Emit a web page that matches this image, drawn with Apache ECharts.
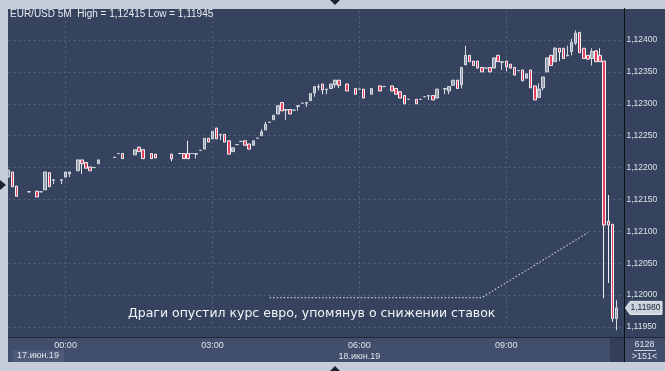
<!DOCTYPE html>
<html><head><meta charset="utf-8">
<script src="https://cdn.jsdelivr.net/npm/echarts@6/dist/echarts.min.js"></script>
<style>html,body{margin:0;padding:0;background:#36435f;overflow:hidden}#c{width:665px;height:371px}</style>
</head><body><div id="c"></div>
<script>
// ---------------- data ----------------
const symbolName = 'EUR/USD';
const timeframe = '5M';
const startTime = [22, 50];          // first visible bar (17 June)
const barMinutes = 5;
const timeTicks = ['00:00', '03:00', '06:00', '09:00'];
const dateLabels = ['17.июн.19', '18.июн.19'];
const dateTickTime = '06:00';
const barsTotal = '6128';
const yMin = 1.1195, yMax = 1.1250, yStep = 0.0005;

// [open, close, low, high]; null = no bar drawn
const ohlc = [
 [1.12185,1.12196,1.12185,1.12196],[1.12193,1.12170,1.12170,1.12193],[1.12171,1.12155,1.12155,1.12171],null,null,
 [1.12162,1.12162,1.12162,1.12162],null,[1.12163,1.12154,1.12154,1.12163],[1.12162,1.12162,1.12162,1.12162],[1.12165,1.12193,1.12165,1.12193],
 [1.12192,1.12170,1.12170,1.12192],[1.12180,1.12181,1.12174,1.12181],null,[1.12180,1.12181,1.12174,1.12181],[1.12185,1.12193,1.12185,1.12193],
 [1.12190,1.12193,1.12185,1.12193],null,[1.12195,1.12212,1.12195,1.12212],[1.12212,1.12206,1.12190,1.12212],[1.12208,1.12199,1.12199,1.12208],
 [1.12201,1.12195,1.12195,1.12201],[1.12200,1.12200,1.12200,1.12200],[1.12206,1.12212,1.12206,1.12212],null,null,
 null,[1.12216,1.12216,1.12216,1.12216],[1.12222,1.12222,1.12222,1.12222],[1.12222,1.12214,1.12214,1.12222],null,
 null,[1.12220,1.12228,1.12220,1.12228],[1.12232,1.12225,1.12225,1.12232],[1.12228,1.12214,1.12214,1.12228],null,
 [1.12222,1.12214,1.12214,1.12222],[1.12221,1.12215,1.12215,1.12221],null,null,null,
 [1.12221,1.12214,1.12210,1.12221],null,[1.12222,1.12222,1.12222,1.12222],[1.12222,1.12214,1.12214,1.12222],[1.12222,1.12214,1.12214,1.12242],
 [1.12222,1.12222,1.12222,1.12222],[1.12221,1.12222,1.12214,1.12222],[1.12227,1.12227,1.12227,1.12227],[1.12229,1.12246,1.12229,1.12246],[1.12246,1.12240,1.12240,1.12246],
 [1.12245,1.12257,1.12245,1.12257],[1.12262,1.12245,1.12245,1.12262],[1.12251,1.12252,1.12243,1.12252],[1.12252,1.12240,1.12240,1.12252],[1.12242,1.12221,1.12221,1.12242],
 [1.12225,1.12231,1.12225,1.12231],[1.12236,1.12236,1.12236,1.12236],[1.12241,1.12241,1.12241,1.12241],[1.12242,1.12235,1.12235,1.12242],[1.12237,1.12229,1.12229,1.12237],
 [1.12235,1.12242,1.12235,1.12242],[1.12246,1.12246,1.12246,1.12246],[1.12250,1.12256,1.12250,1.12260],[1.12259,1.12268,1.12259,1.12272],[1.12271,1.12271,1.12271,1.12271],
 [1.12275,1.12282,1.12275,1.12282],[1.12284,1.12297,1.12284,1.12297],[1.12302,1.12289,1.12289,1.12302],[1.12290,1.12291,1.12275,1.12291],[1.12291,1.12284,1.12284,1.12291],
 [1.12290,1.12290,1.12290,1.12290],[1.12296,1.12297,1.12289,1.12297],[1.12301,1.12301,1.12301,1.12301],[1.12301,1.12302,1.12295,1.12302],[1.12305,1.12316,1.12305,1.12316],
 [1.12317,1.12327,1.12311,1.12327],[1.12326,1.12327,1.12321,1.12331],[1.12331,1.12322,1.12315,1.12331],[1.12322,1.12323,1.12315,1.12323],[1.12324,1.12331,1.12324,1.12331],
 [1.12330,1.12337,1.12325,1.12337],[1.12337,1.12329,1.12325,1.12337],null,[1.12331,1.12320,1.12320,1.12331],null,
 [1.12324,1.12315,1.12315,1.12324],[1.12323,1.12323,1.12323,1.12323],[1.12323,1.12309,1.12309,1.12323],null,[1.12315,1.12324,1.12315,1.12324],
 null,[1.12328,1.12320,1.12320,1.12328],[1.12327,1.12327,1.12327,1.12327],null,[1.12328,1.12320,1.12320,1.12328],
 [1.12324,1.12315,1.12315,1.12324],[1.12319,1.12309,1.12309,1.12319],[1.12313,1.12300,1.12300,1.12313],[1.12307,1.12307,1.12307,1.12307],null,
 [1.12307,1.12300,1.12300,1.12307],[1.12307,1.12307,1.12307,1.12307],[1.12311,1.12311,1.12311,1.12311],[1.12312,1.12313,1.12306,1.12313],[1.12313,1.12306,1.12306,1.12313],
 [1.12309,1.12323,1.12309,1.12323],null,[1.12323,1.12324,1.12315,1.12324],[1.12320,1.12327,1.12315,1.12327],[1.12329,1.12337,1.12329,1.12337],
 [1.12337,1.12324,1.12324,1.12337],[1.12330,1.12357,1.12324,1.12357],[1.12361,1.12376,1.12361,1.12391],[1.12376,1.12366,1.12366,1.12376],[1.12367,1.12360,1.12360,1.12367],
 [1.12367,1.12356,1.12356,1.12367],[1.12357,1.12350,1.12350,1.12357],[1.12356,1.12356,1.12356,1.12356],[1.12357,1.12350,1.12350,1.12357],[1.12356,1.12372,1.12356,1.12372],
 [1.12376,1.12366,1.12366,1.12376],[1.12365,1.12366,1.12353,1.12366],[1.12367,1.12358,1.12351,1.12367],[1.12362,1.12356,1.12356,1.12362],[1.12357,1.12345,1.12345,1.12357],
 [1.12352,1.12352,1.12352,1.12352],[1.12353,1.12336,1.12336,1.12353],[1.12340,1.12347,1.12340,1.12347],[1.12353,1.12325,1.12325,1.12353],[1.12328,1.12306,1.12306,1.12328],
 [1.12310,1.12323,1.12310,1.12332],[1.12325,1.12342,1.12321,1.12342],[1.12350,1.12372,1.12350,1.12372],[1.12376,1.12360,1.12360,1.12376],[1.12366,1.12387,1.12366,1.12389],
 [1.12387,1.12381,1.12367,1.12387],[1.12387,1.12371,1.12371,1.12387],[1.12375,1.12376,1.12375,1.12391],[1.12382,1.12396,1.12376,1.12402],[1.12395,1.12411,1.12392,1.12415],
 [1.12412,1.12380,1.12380,1.12412],[1.12387,1.12371,1.12371,1.12387],[1.12376,1.12370,1.12370,1.12376],[1.12371,1.12382,1.12360,1.12387],[1.12383,1.12366,1.12366,1.12383],
 [1.12376,1.12366,1.12366,1.12387],[1.12367,1.12110,1.11995,1.12367],[1.12116,1.12110,1.12019,1.12157],[1.12111,1.11963,1.11958,1.12111],[1.11963,1.11980,1.11945,1.11992],
 null
];

// annotation
const noteText = 'Драги опустил курс евро, упомянув о снижении ставок';
const noteLineX = [64, 116, 142];
const noteLineY = [1.11996, 1.11996, 1.12098];

// ---------------- build ----------------
const pad = n => String(n).padStart(2, '0');
const categories = ohlc.map((_, i) => {
  const m = (startTime[0] * 60 + startTime[1] + i * barMinutes) % 1440;
  return pad(Math.floor(m / 60)) + ':' + pad(m % 60);
});
const tickIdx = timeTicks.map(t => categories.indexOf(t));
const dateIdx = categories.indexOf(dateTickTime);
const fmt = v => v.toFixed(5).replace('.', ',');
const bars = ohlc.filter(Boolean);
const hi = Math.max(...bars.map(b => b[3]));
const lo = Math.min(...bars.map(b => b[2]));
let lastIdx = ohlc.length - 1; while (!ohlc[lastIdx]) lastIdx--;
const lastPrice = ohlc[lastIdx][1];

const FONT = "'Liberation Sans', Arial, sans-serif";
const BG = '#36435f', FRAME = '#c6cdd8', STRIP = '#424f6c';

const chart = echarts.init(document.getElementById('c'), null, {renderer: 'canvas'});
const txt = (id, x, y, text, size, fill, align, family) => ({
  id, type: 'text', x, y, z: 120,
  style: {text, font: size + 'px ' + (family || FONT), fill, textAlign: align, align: align,
          textVerticalAlign: 'middle', verticalAlign: 'middle'}
});

chart.setOption({
  animation: false,
  backgroundColor: BG,
  textStyle: {fontFamily: FONT},
  grid: {left: 8.5, top: -23.78, width: 612, height: 350.8, containLabel: false, outerBoundsMode: 'none'},
  xAxis: {
    type: 'category', data: categories, boundaryGap: false,
    axisLine: {show: false}, axisTick: {show: false},
    axisLabel: {
      interval: (i) => tickIdx.indexOf(i) >= 0,
      margin: 12.5, color: '#dfe3ea', fontSize: 9, lineHeight: 11,
      formatter: (v, i) => i === dateIdx ? v + '\n{d|' + dateLabels[1] + '}' : v,
      rich: {d: {fontSize: 9, lineHeight: 11, color: '#dfe3ea'}}
    },
    splitLine: {show: true, interval: (i) => tickIdx.indexOf(i) >= 0,
      lineStyle: {color: '#57637e', type: [2, 3], width: 1}}
  },
  yAxis: {
    type: 'value', position: 'right', min: yMin, max: yMax, interval: yStep,
    axisLine: {show: false}, axisTick: {show: false},
    axisLabel: {margin: 6, color: '#dfe3ea', fontSize: 8.5,
      formatter: v => (v > 1.12401 ? '' : fmt(v))},
    splitLine: {lineStyle: {color: '#57637e', type: [2, 3], width: 1}}
  },
  series: [
    {
      type: 'candlestick', clip: false, barWidth: 3, z: 5,
      data: ohlc.map(d => d ? d : ['-', '-', '-', '-']),
      itemStyle: {color: '#9aa0ad', color0: '#e6405e', borderColor: '#d6dae2',
                  borderColor0: '#f0f1f4', borderWidth: 1}
    },
    {
      type: 'line', data: noteLineX.map((x, i) => [x, noteLineY[i]]),
      symbol: 'none', silent: true, z: 4,
      lineStyle: {color: '#c3c9d4', width: 1.2, type: [1.5, 2]}
    }
  ],
  graphic: {elements: [
    {id: 'strip', type: 'rect', z: -10, shape: {x: 8, y: 337, width: 657, height: 25}, style: {fill: STRIP}},
    {id: 'stripDark', type: 'rect', z: -9, shape: {x: 610, y: 338, width: 14, height: 24}, style: {fill: '#333f59'}},
    {id: 'stripLine', type: 'rect', z: -8, shape: {x: 8, y: 337, width: 657, height: 1}, style: {fill: '#1f2738'}},
    {id: 'dateBox', type: 'rect', z: -8, shape: {x: 13, y: 350, width: 51, height: 12}, style: {fill: '#4e5b78'}},
    txt('date0', 38, 356, dateLabels[0], 9, '#dfe3ea', 'center'),
    {id: 'axisLineR', type: 'rect', z: 110, shape: {x: 624, y: 8, width: 1, height: 354}, style: {fill: '#0c0f16'}},
    {id: 'fTop', type: 'rect', z: 100, shape: {x: 0, y: 0, width: 665, height: 9}, style: {fill: FRAME}},
    {id: 'fLeft', type: 'rect', z: 100, shape: {x: 0, y: 0, width: 8, height: 371}, style: {fill: FRAME}},
    {id: 'fBot', type: 'rect', z: 100, shape: {x: 0, y: 362, width: 665, height: 9}, style: {fill: FRAME}},
    {id: 'triTop', type: 'polygon', z: 105, shape: {points: [[330, 0], [340, 0], [335, 5]]}, style: {fill: '#1c2231'}},
    {id: 'triBot', type: 'polygon', z: 105, shape: {points: [[330, 371], [340, 371], [335, 366]]}, style: {fill: '#1c2231'}},
    {id: 'triLeft', type: 'polygon', z: 105, shape: {points: [[0, 180], [0, 190], [6, 185]]}, style: {fill: '#1c2231'}},
    txt('title', 10, 14.5, symbolName + ' ' + timeframe + '  High = ' + fmt(hi) + ' Low = ' + fmt(lo), 10, '#e8ebf0', 'left'),
    txt('note', 128, 314, noteText, 12.5, '#f2f4f7', 'left', "'DejaVu Sans', sans-serif"),
    txt('total', 644.5, 345, barsTotal, 9, '#dfe3ea', 'center'),
    {id: 'totalLine', type: 'rect', z: 110, shape: {x: 634, y: 350, width: 22, height: 1}, style: {fill: '#c8ced8'}},
    txt('visible', 644.5, 357, '>' + ohlc.length + '<', 9, '#dfe3ea', 'center')
  ]}
});

// current price marker, positioned through the y scale
const py = chart.convertToPixel({yAxisIndex: 0}, lastPrice);
chart.setOption({graphic: {elements: [
  {id: 'pmBox', type: 'polygon', z: 115,
   shape: {points: [[625.5, py], [630, py - 6.5], [662, py - 6.5], [662, py + 6.5], [630, py + 6.5]]},
   style: {fill: '#cdd3dd', stroke: '#e8ecf2', lineWidth: 1}},
  txt('pmText', 645.5, py, fmt(lastPrice), 8.5, '#1c2231', 'center')
]}});
</script></body></html>
